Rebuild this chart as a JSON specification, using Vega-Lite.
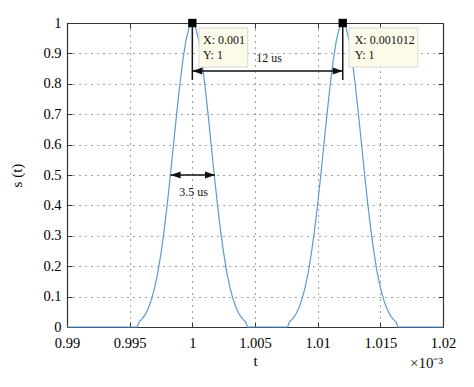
{
  "$schema": "https://vega.github.io/schema/vega-lite/v6.json",
  "width": 376,
  "height": 304,
  "autosize": "none",
  "padding": {"left": 67, "top": 23, "right": 31, "bottom": 60},
  "config": {
    "view": {"stroke": null},
    "axis": {
      "labelFont": "Liberation Serif", "titleFont": "Liberation Serif",
      "labelFontSize": 14.5, "titleFontSize": 15, "titleFontWeight": "normal",
      "labelColor": "#000", "titleColor": "#000",
      "domainColor": "#333", "tickColor": "#333", "domainWidth": 1.2
    }
  },
  "datasets": {
    "signal": [
      {"t": 0.99, "s": 0}, {"t": 0.9956, "s": 0},
      {"t": 0.99575, "s": 0.0167}, {"t": 0.996, "s": 0.0267}, {"t": 0.99625, "s": 0.0414}, {"t": 0.9965, "s": 0.0624},
      {"t": 0.99675, "s": 0.0915}, {"t": 0.997, "s": 0.13}, {"t": 0.99725, "s": 0.18}, {"t": 0.9975, "s": 0.243},
      {"t": 0.99775, "s": 0.318}, {"t": 0.998, "s": 0.404}, {"t": 0.99825, "s": 0.5}, {"t": 0.9985, "s": 0.601},
      {"t": 0.99875, "s": 0.702}, {"t": 0.999, "s": 0.797}, {"t": 0.99925, "s": 0.88}, {"t": 0.9995, "s": 0.945},
      {"t": 0.99975, "s": 0.986}, {"t": 1.0, "s": 1},
      {"t": 1.00025, "s": 0.986}, {"t": 1.0005, "s": 0.945}, {"t": 1.00075, "s": 0.88}, {"t": 1.001, "s": 0.797},
      {"t": 1.00125, "s": 0.702}, {"t": 1.0015, "s": 0.601}, {"t": 1.00175, "s": 0.5}, {"t": 1.002, "s": 0.404},
      {"t": 1.00225, "s": 0.318}, {"t": 1.0025, "s": 0.243}, {"t": 1.00275, "s": 0.18}, {"t": 1.003, "s": 0.13},
      {"t": 1.00325, "s": 0.0915}, {"t": 1.0035, "s": 0.0624}, {"t": 1.00375, "s": 0.0414}, {"t": 1.004, "s": 0.0267},
      {"t": 1.00425, "s": 0.0167}, {"t": 1.0044, "s": 0},
      {"t": 1.0076, "s": 0},
      {"t": 1.00775, "s": 0.0167}, {"t": 1.008, "s": 0.0267}, {"t": 1.00825, "s": 0.0414}, {"t": 1.0085, "s": 0.0624},
      {"t": 1.00875, "s": 0.0915}, {"t": 1.009, "s": 0.13}, {"t": 1.00925, "s": 0.18}, {"t": 1.0095, "s": 0.243},
      {"t": 1.00975, "s": 0.318}, {"t": 1.01, "s": 0.404}, {"t": 1.01025, "s": 0.5}, {"t": 1.0105, "s": 0.601},
      {"t": 1.01075, "s": 0.702}, {"t": 1.011, "s": 0.797}, {"t": 1.01125, "s": 0.88}, {"t": 1.0115, "s": 0.945},
      {"t": 1.01175, "s": 0.986}, {"t": 1.012, "s": 1},
      {"t": 1.01225, "s": 0.986}, {"t": 1.0125, "s": 0.945}, {"t": 1.01275, "s": 0.88}, {"t": 1.013, "s": 0.797},
      {"t": 1.01325, "s": 0.702}, {"t": 1.0135, "s": 0.601}, {"t": 1.01375, "s": 0.5}, {"t": 1.014, "s": 0.404},
      {"t": 1.01425, "s": 0.318}, {"t": 1.0145, "s": 0.243}, {"t": 1.01475, "s": 0.18}, {"t": 1.015, "s": 0.13},
      {"t": 1.01525, "s": 0.0915}, {"t": 1.0155, "s": 0.0624}, {"t": 1.01575, "s": 0.0414}, {"t": 1.016, "s": 0.0267},
      {"t": 1.01625, "s": 0.0167}, {"t": 1.0164, "s": 0},
      {"t": 1.02, "s": 0}
    ],
    "boxes": [
      {"x": 1.00053, "x2": 1.00442, "y": 0.984, "y2": 0.855},
      {"x": 1.0125, "x2": 1.018, "y": 0.984, "y2": 0.855}
    ],
    "segments": [
      {"x": 1.0, "x2": 1.0, "y": 1.0, "y2": 0.8125},
      {"x": 1.012, "x2": 1.012, "y": 1.0, "y2": 0.8125},
      {"x": 1.0, "x2": 1.012, "y": 0.842, "y2": 0.842},
      {"x": 0.99827, "x2": 1.00181, "y": 0.5, "y2": 0.5}
    ],
    "heads": [
      {"x": 1.0, "y": 0.842, "dir": "left"},
      {"x": 1.012, "y": 0.842, "dir": "right"},
      {"x": 0.99827, "y": 0.5, "dir": "left"},
      {"x": 1.00181, "y": 0.5, "dir": "right"}
    ],
    "tips": [
      {"x": 1.0, "y": 1}, {"x": 1.012, "y": 1}
    ],
    "tiptext": [
      {"x": 1.00085, "y": 0.944, "label": "X: 0.001"},
      {"x": 1.00085, "y": 0.895, "label": "Y: 1"},
      {"x": 1.01295, "y": 0.944, "label": "X: 0.001012"},
      {"x": 1.01295, "y": 0.895, "label": "Y: 1"}
    ],
    "notes": [
      {"x": 1.00612, "y": 0.885, "label": "12 us"},
      {"x": 1.0001, "y": 0.444, "label": "3.5 us"}
    ],
    "expo": [
      {"x": 1.02, "y": -0.118, "label": "×10⁻³"}
    ]
  },
  "layer": [
    {
      "data": {"name": "signal"},
      "mark": {"type": "line", "color": "#5b9bd5", "strokeWidth": 1.2},
      "encoding": {
        "x": {
          "field": "t", "type": "quantitative",
          "scale": {"domain": [0.99, 1.02], "nice": false, "zero": false},
          "axis": {
            "orient": "bottom", "title": "t", "values": [0.99, 0.995, 1, 1.005, 1.01, 1.015, 1.02],
            "labelExpr": "format(datum.value, '.6~g')",
            "grid": true, "gridDash": [1, 5], "gridColor": "#444", "gridOpacity": 1,
            "tickSize": -5, "labelPadding": 14, "titlePadding": 4, "labelFlush": false
          }
        },
        "y": {
          "field": "s", "type": "quantitative",
          "scale": {"domain": [0, 1], "nice": false, "zero": false},
          "axis": {
            "orient": "left", "title": "s (t)", "values": [0, 0.1, 0.2, 0.3, 0.4, 0.5, 0.6, 0.7, 0.8, 0.9, 1],
            "labelExpr": "format(datum.value, '.6~g')",
            "grid": true, "gridDash": [1, 5], "gridColor": "#444", "gridOpacity": 1,
            "tickSize": -5, "labelPadding": 11, "titlePadding": 18, "labelFlush": false
          }
        }
      }
    },
    {
      "data": {"name": "tips"},
      "mark": {"type": "point", "opacity": 0},
      "encoding": {
        "x": {"field": "x", "type": "quantitative",
          "axis": {"orient": "top", "title": null, "labels": false, "grid": false,
            "values": [0.99, 0.995, 1, 1.005, 1.01, 1.015, 1.02], "tickSize": -5}},
        "y": {"field": "y", "type": "quantitative",
          "axis": {"orient": "right", "title": null, "labels": false, "grid": false,
            "values": [0, 0.1, 0.2, 0.3, 0.4, 0.5, 0.6, 0.7, 0.8, 0.9, 1], "tickSize": -5}}
      }
    },
    {
      "data": {"name": "boxes"},
      "mark": {"type": "rect", "fill": "#fcfae9", "stroke": "#d8d8d0", "strokeWidth": 1},
      "encoding": {
        "x": {"field": "x", "type": "quantitative", "axis": null},
        "x2": {"field": "x2"},
        "y": {"field": "y", "type": "quantitative", "axis": null},
        "y2": {"field": "y2"}
      }
    },
    {
      "data": {"name": "segments"},
      "mark": {"type": "rule", "color": "#111", "strokeWidth": 1.5},
      "encoding": {
        "x": {"field": "x", "type": "quantitative", "axis": null},
        "x2": {"field": "x2"},
        "y": {"field": "y", "type": "quantitative", "axis": null},
        "y2": {"field": "y2"}
      }
    },
    {
      "data": {"name": "heads"},
      "mark": {"type": "point", "filled": true, "color": "#111", "opacity": 1, "size": 100, "strokeWidth": 0},
      "encoding": {
        "x": {"field": "x", "type": "quantitative", "axis": null},
        "y": {"field": "y", "type": "quantitative", "axis": null},
        "shape": {"field": "dir", "type": "nominal", "legend": null,
          "scale": {"domain": ["left", "right"], "range": ["M0,0L2,-0.7L2,0.7Z", "M0,0L-2,-0.7L-2,0.7Z"]}}
      }
    },
    {
      "data": {"name": "tips"},
      "mark": {"type": "point", "shape": "square", "filled": true, "color": "#000", "opacity": 1, "size": 70},
      "encoding": {
        "x": {"field": "x", "type": "quantitative", "axis": null},
        "y": {"field": "y", "type": "quantitative", "axis": null}
      }
    },
    {
      "data": {"name": "tiptext"},
      "mark": {"type": "text", "align": "left", "baseline": "middle", "font": "Liberation Serif", "fontSize": 12, "color": "#111"},
      "encoding": {
        "x": {"field": "x", "type": "quantitative", "axis": null},
        "y": {"field": "y", "type": "quantitative", "axis": null},
        "text": {"field": "label"}
      }
    },
    {
      "data": {"name": "notes"},
      "mark": {"type": "text", "align": "center", "baseline": "middle", "font": "Liberation Serif", "fontSize": 12, "color": "#111"},
      "encoding": {
        "x": {"field": "x", "type": "quantitative", "axis": null},
        "y": {"field": "y", "type": "quantitative", "axis": null},
        "text": {"field": "label"}
      }
    },
    {
      "data": {"name": "expo"},
      "mark": {"type": "text", "align": "right", "baseline": "middle", "font": "Liberation Serif", "fontSize": 15, "color": "#111"},
      "encoding": {
        "x": {"field": "x", "type": "quantitative", "axis": null},
        "y": {"field": "y", "type": "quantitative", "axis": null},
        "text": {"field": "label"}
      }
    }
  ]
}
